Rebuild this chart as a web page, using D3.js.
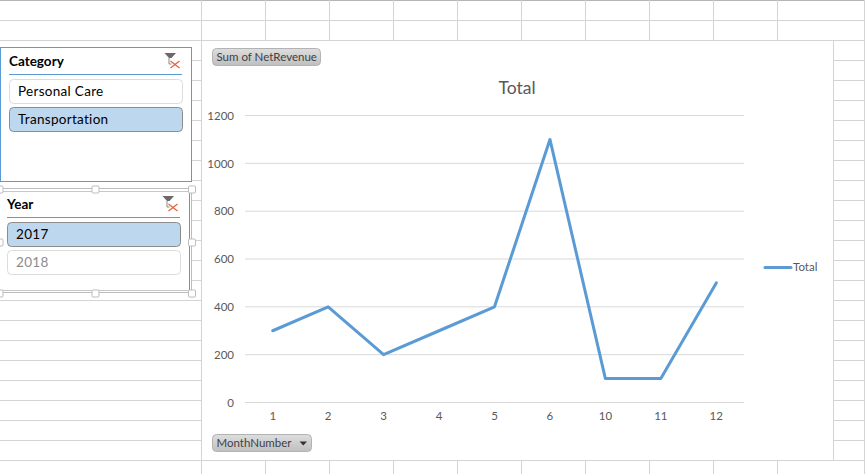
<!DOCTYPE html>
<html>
<head>
<meta charset="utf-8">
<script src="https://d3js.org/d3.v7.min.js"></script>
<style>
html, body { margin: 0; padding: 0; background: #fff; overflow: hidden; }
text { font-family: Lato, "Open Sans", sans-serif; }
</style>
</head>
<body>
<div id="chart"></div>
<script>
// values
var months = ["1", "2", "3", "4", "5", "6", "10", "11", "12"];
var revenue = [300, 400, 200, 300, 400, 1100, 100, 100, 500];
var yTicks = [0, 200, 400, 600, 800, 1000, 1200];
var categoryItems = ["Personal Care", "Transportation"];
var categoryOn = [false, true];
var yearItems = ["2017", "2018"];
var yearOn = [true, false];

var svgWidth = 865;
var svgHeight = 474;

var svg = d3.select("#chart")
  .append("svg")
  .attr("width", svgWidth)
  .attr("height", svgHeight)
  .style("display", "block");

// sheet grid behind everything
var gridColor = "#d4d4d4";
var sheet = svg.append("g");
d3.range(0, 474, 20).forEach(function(y) {
  sheet.append("line")
    .attr("x1", 0).attr("x2", svgWidth)
    .attr("y1", y + 0.5).attr("y2", y + 0.5)
    .attr("stroke", y == 0 ? "#b5b5b5" : gridColor);
});
[201, 265, 329, 393, 457, 521, 585, 649, 713, 777, 864].forEach(function(x) {
  sheet.append("line")
    .attr("x1", x + 0.5).attr("x2", x + 0.5)
    .attr("y1", 0).attr("y2", svgHeight)
    .attr("stroke", gridColor);
});

// chart area
svg.append("rect")
  .attr("x", 202).attr("y", 41)
  .attr("width", 632).attr("height", 419)
  .attr("fill", "#fff");
svg.append("line")
  .attr("x1", 833.5).attr("x2", 833.5)
  .attr("y1", 40).attr("y2", 460)
  .attr("stroke", gridColor);

var xScale = d3.scaleBand()
  .domain(months)
  .range([245, 744]);

var yScale = d3.scaleLinear()
  .domain([0, 1200])
  .range([402.5, 115.5]);

var leftAxis = d3.axisLeft(yScale)
  .tickValues(yTicks)
  .tickFormat(d3.format("d"))
  .tickSize(0)
  .tickPadding(11);

var gy = svg.append("g")
  .attr("transform", "translate(245,0)")
  .call(leftAxis);
gy.select(".domain").remove();
gy.selectAll("text")
  .attr("fill", "#595959")
  .style("font-size", "11.5px")
  .style("font-family", "Lato");

svg.append("g").selectAll("line")
  .data(yTicks)
  .enter()
  .append("line")
  .attr("x1", 245)
  .attr("x2", 744)
  .attr("y1", d => yScale(d))
  .attr("y2", d => yScale(d))
  .attr("stroke", "#d9d9d9");

var bottomAxis = d3.axisBottom(xScale)
  .tickSize(0)
  .tickPadding(9);

var gx = svg.append("g")
  .attr("transform", "translate(0,402.5)")
  .call(bottomAxis);
gx.select(".domain").remove();
gx.selectAll("text")
  .attr("fill", "#595959")
  .style("font-size", "11.5px")
  .style("font-family", "Lato");

var line = d3.line()
  .x((d, i) => xScale(months[i]) + xScale.bandwidth() / 2)
  .y(d => yScale(d));

svg.append("path")
  .datum(revenue)
  .attr("d", line)
  .attr("fill", "none")
  .attr("stroke", "#5b9bd5")
  .attr("stroke-width", 3)
  .attr("stroke-linecap", "round")
  .attr("stroke-linejoin", "round");

svg.append("text")
  .attr("x", 517).attr("y", 94)
  .attr("text-anchor", "middle")
  .attr("fill", "#595959")
  .style("font-size", "17.5px")
  .text("Total");

// legend
svg.append("line")
  .attr("x1", 765).attr("x2", 791)
  .attr("y1", 267.5).attr("y2", 267.5)
  .attr("stroke", "#5b9bd5")
  .attr("stroke-width", 3)
  .attr("stroke-linecap", "round");
svg.append("text")
  .attr("x", 793).attr("y", 271)
  .attr("fill", "#595959")
  .style("font-size", "11.5px")
  .text("Total");

// grey pivot field buttons
var grad = svg.append("defs").append("linearGradient")
  .attr("id", "btn")
  .attr("x1", 0).attr("x2", 0).attr("y1", 0).attr("y2", 1);
grad.append("stop").attr("offset", "0%").attr("stop-color", "#dedede");
grad.append("stop").attr("offset", "100%").attr("stop-color", "#bfbfbf");

function fieldButton(x, y, w, h, label) {
  svg.append("rect")
    .attr("x", x + 0.5).attr("y", y + 0.5)
    .attr("width", w).attr("height", h)
    .attr("rx", 4)
    .attr("fill", "url(#btn)")
    .attr("stroke", "#b3b3b3");
  svg.append("text")
    .attr("x", x + 4.5).attr("y", y + 13)
    .attr("fill", "#3f3f46")
    .style("font-size", "11.5px")
    .text(label);
}
fieldButton(212, 48, 108, 17, "Sum of NetRevenue");
fieldButton(212, 434, 99, 17, "MonthNumber");
svg.append("path")
  .attr("d", "M299.5,441.5h7.5l-3.75,4z")
  .attr("fill", "#333");

// slicers
function filterIcon(g, x, y) {
  g.append("path")
    .attr("d", `M${x},${y}h11.5l-4.5,5h-2.5z`)
    .attr("fill", "#6a6a6a");
  g.append("path")
    .attr("d", `M${x + 4.5},${y + 5}v6h2.5`)
    .attr("fill", "none")
    .attr("stroke", "#8a8a8a");
  g.append("path")
    .attr("d", `M${x + 6},${y + 8}l9,7m0,-7l-9,7`)
    .attr("stroke", "#e0603f")
    .attr("stroke-width", 1.2)
    .attr("fill", "none");
}

function slicer(opts) {
  var g = svg.append("g");
  g.append("rect")
    .attr("x", opts.x + 0.5).attr("y", opts.y + 0.5)
    .attr("width", opts.w).attr("height", opts.h)
    .attr("fill", "#fff")
    .attr("stroke", opts.border ? "#5b9bd5" : "none");
  g.append("text")
    .attr("x", opts.x + opts.pad).attr("y", opts.y + 18.5)
    .attr("fill", "#000")
    .style("font-size", "13.5px")
    .style("font-weight", "700")
    .text(opts.title);
  g.append("line")
    .attr("x1", opts.x + opts.pad).attr("x2", opts.x + opts.pad + opts.itemW)
    .attr("y1", opts.y + 27.5).attr("y2", opts.y + 27.5)
    .attr("stroke", "#5b9bd5");
  filterIcon(g, opts.x + opts.pad + opts.itemW - 17.5, opts.y + 6);

  opts.items.forEach(function(item, i) {
    var top = opts.y + 32 + i * 28;
    g.append("rect")
      .attr("x", opts.x + opts.pad + 0.5).attr("y", top + 0.5)
      .attr("width", opts.itemW).attr("height", 24)
      .attr("rx", 4)
      .attr("fill", opts.on[i] ? "#bdd7ee" : "#fff")
      .attr("stroke", opts.on[i] ? "#8c8c8c" : "#dcdcdc");
    g.append("text")
      .attr("x", opts.x + opts.pad + 9).attr("y", top + 17)
      .attr("fill", opts.on[i] || !opts.dim ? "#000" : "#8c8c8c")
      .style("font-size", "13.5px")
      .style("letter-spacing", "0.3px")
      .text(item);
  });
}

slicer({ x: 0, y: 47, w: 191, h: 134, pad: 9, itemW: 173, title: "Category",
  items: categoryItems, on: categoryOn, border: true, dim: false });

// Year slicer is selected, so it carries a frame and handles
svg.append("rect")
  .attr("x", -2).attr("y", 188.5)
  .attr("width", 193.5).attr("height", 104)
  .attr("fill", "#fff")
  .attr("stroke", "#bdbdbd");
slicer({ x: 0, y: 190, w: 189, h: 100, pad: 7, itemW: 173, title: "Year",
  items: yearItems, on: yearOn, border: false, dim: true });
svg.append("line")
  .attr("x1", 189.5).attr("x2", 189.5)
  .attr("y1", 191).attr("y2", 291)
  .attr("stroke", "#5b9bd5");
svg.append("line")
  .attr("x1", 0).attr("x2", 189)
  .attr("y1", 191.5).attr("y2", 191.5)
  .attr("stroke", "#c8c8c8");
svg.append("line")
  .attr("x1", 0).attr("x2", 189)
  .attr("y1", 290.5).attr("y2", 290.5)
  .attr("stroke", "#c8c8c8");

[[95, 189], [191.5, 189], [191.5, 242], [95, 293], [191.5, 293], [-1, 242], [-1, 293], [-1, 189]].forEach(function(p) {
  svg.append("rect")
    .attr("x", p[0] - 3).attr("y", p[1] - 3)
    .attr("width", 7).attr("height", 7)
    .attr("rx", 1)
    .attr("fill", "#fff")
    .attr("stroke", "#bdbdbd");
});
</script>
</body>
</html>
